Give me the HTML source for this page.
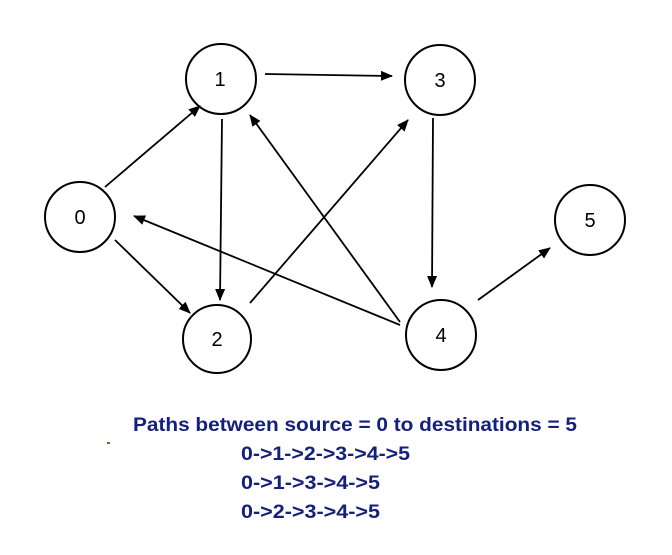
<!DOCTYPE html>
<html><head><style>body{margin:0;background:#fff}</style></head><body>
<svg width="672" height="550" xmlns="http://www.w3.org/2000/svg">
<defs><marker id="a" markerWidth="12" markerHeight="10" refX="11" refY="5" orient="auto" markerUnits="userSpaceOnUse"><path d="M0,0 L12,5 L0,10 z" fill="#000"/></marker></defs>
<rect width="672" height="550" fill="#fff"/>
<g fill="none" stroke="#000" stroke-width="2">
<circle cx="80" cy="217" r="35"/>
<circle cx="221" cy="79" r="35"/>
<circle cx="217" cy="339" r="34"/>
<circle cx="440" cy="80" r="35"/>
<circle cx="441" cy="335" r="35"/>
<circle cx="590" cy="220" r="35"/>
</g>
<g stroke="#000" stroke-width="1.8" marker-end="url(#a)">
<line x1="105" y1="187" x2="200" y2="106"/>
<line x1="115" y1="240" x2="190" y2="313"/>
<line x1="222" y1="119" x2="220" y2="300"/>
<line x1="250" y1="303" x2="408" y2="120"/>
<line x1="265" y1="74" x2="392" y2="76"/>
<line x1="433" y1="118" x2="432" y2="287"/>
<line x1="400" y1="322" x2="250" y2="115"/>
<line x1="400" y1="325" x2="134" y2="216"/>
<line x1="478" y1="300" x2="550" y2="248"/>
</g>
<g font-family="Liberation Sans, sans-serif" font-size="20" text-anchor="middle">
<text x="80" y="224">0</text><text x="220" y="86">1</text><text x="217" y="346">2</text>
<text x="440" y="87">3</text><text x="441" y="342">4</text><text x="590" y="227">5</text>
</g>
<rect x="107" y="442" width="3" height="2" fill="#3a8a1a"/>
<g font-family="Liberation Sans, sans-serif" font-size="19" font-weight="bold" fill="#14207a">
<text x="133" y="431" textLength="444" lengthAdjust="spacingAndGlyphs">Paths between source = 0 to destinations = 5</text>
<text x="241" y="460" textLength="169" lengthAdjust="spacingAndGlyphs">0-&gt;1-&gt;2-&gt;3-&gt;4-&gt;5</text>
<text x="241" y="489" textLength="139" lengthAdjust="spacingAndGlyphs">0-&gt;1-&gt;3-&gt;4-&gt;5</text>
<text x="241" y="518" textLength="139" lengthAdjust="spacingAndGlyphs">0-&gt;2-&gt;3-&gt;4-&gt;5</text>
</g>
</svg>
</body></html>
